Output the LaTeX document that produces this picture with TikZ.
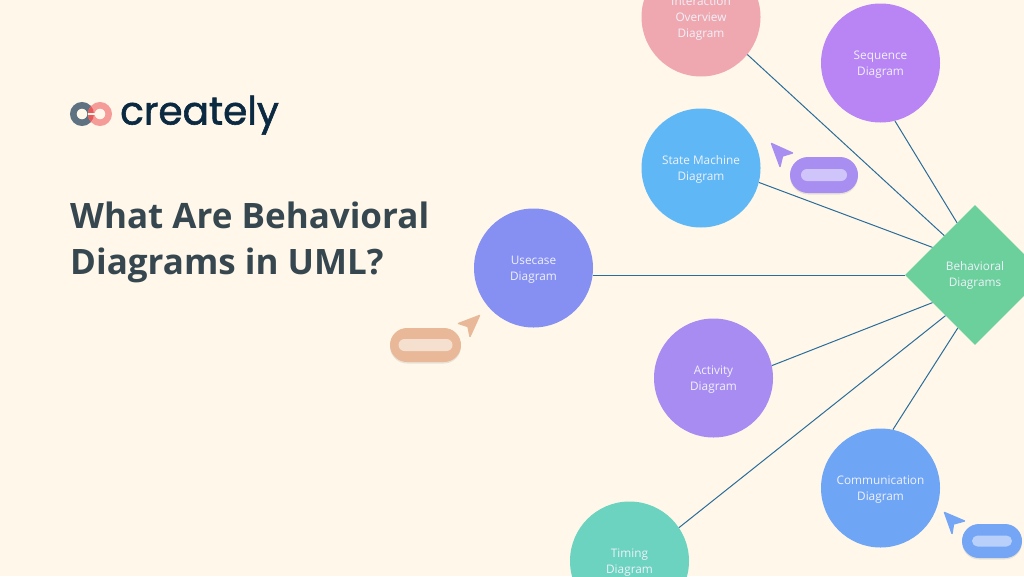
\documentclass[tikz,border=0pt]{standalone}
\usepackage{fontspec}
\setmainfont{Open Sans}
\newfontfamily\logofont[FakeBold=1.5]{Poppins}
\usetikzlibrary{shapes.geometric,shapes.misc,shadows}
\definecolor{pagebg}{HTML}{FFF8EA}
\definecolor{linkblue}{HTML}{2A6C9A}
\definecolor{titleink}{HTML}{37474F}
\definecolor{logoink}{HTML}{0B2A42}
\definecolor{labelink}{HTML}{EFF1FB}
\definecolor{logogrey}{HTML}{5E7282}
\definecolor{logopink}{HTML}{F59C98}
\definecolor{logored}{HTML}{E85A5A}
\newcommand{\firstline}{\rule{0pt}{12pt}}
\tikzset{
  umlcircle/.style={circle,minimum size=119pt,inner sep=0pt,align=center,text=labelink,
    font=\fontsize{11.8}{16}\selectfont},
  umldiamond/.style={diamond,minimum size=140pt,inner sep=0pt,align=center,text=labelink,
    font=\fontsize{11.8}{16}\selectfont},
  titleline/.style={anchor=base west,inner sep=0pt,text=titleink,font=\fontsize{35}{44}\selectfont\bfseries},
  pillouter/.style={rounded rectangle,inner sep=0pt,
    drop shadow={shadow xshift=0pt,shadow yshift=-1.5pt,opacity=0.18}},
  pillinner/.style={rounded rectangle,inner sep=0pt},
  pointer/.style={line join=round,line width=1.4pt},
  link/.style={draw=linkblue,line width=1pt}
}
\begin{document}
\begin{tikzpicture}[x=1pt,y=-1pt]
  \useasboundingbox (0,0) rectangle (1024,576);
  \clip (0,0) rectangle (1024,576);
  \fill[pagebg] (0,0) rectangle (1024,576);
  % logo
  \draw[line width=6.5pt,draw=logogrey] (82,114) circle (8.7);
  \draw[line width=6.5pt,draw=logopink] (100,114) circle (8.7);
  \begin{scope}
    \clip (82,114) circle (12);
    \fill[logored] (100,114) circle (12);
  \end{scope}
  \fill[pagebg] (87.5,112.6) rectangle (94.5,115.4);
  \node[anchor=base west,inner sep=0pt,text=logoink,font=\logofont\fontsize{39}{39}\selectfont]
    (logotext) at (120,124.5) {creately};
  % title
  \node[titleline] (title1) at (70,228) {What Are Behavioral};
  \node[titleline] (title2) at (70,274) {Diagrams in UML?};
  % diagrams
  \draw
    (975,275) node[umldiamond,fill={rgb,255:red,107;green,208;blue,156}] (behavioral) {Behavioral\\Diagrams}
    (701,17) node[umlcircle,fill={rgb,255:red,240;green,168;blue,176}] (interaction) {\firstline Interaction\\Overview\\Diagram}
    (880.5,63) node[umlcircle,fill={rgb,255:red,185;green,133;blue,245}] (sequence) {\firstline Sequence\\Diagram}
    (701,168) node[umlcircle,fill={rgb,255:red,95;green,184;blue,245}] (statemachine) {\firstline State Machine\\Diagram}
    (533.5,268) node[umlcircle,fill={rgb,255:red,133;green,144;blue,242}] (usecase) {\firstline Usecase\\Diagram}
    (713.5,378) node[umlcircle,fill={rgb,255:red,169;green,140;blue,242}] (activity) {\firstline Activity\\Diagram}
    (880.5,488) node[umlcircle,fill={rgb,255:red,111;green,165;blue,245}] (communication) {\firstline Communication\\Diagram}
    (629.5,561) node[umlcircle,fill={rgb,255:red,107;green,211;blue,192}] (timing) {\firstline Timing\\Diagram};
  \begin{scope}[link]
    \draw (interaction.-39) to (behavioral.128);
    \draw (sequence.-76) to (behavioral.109);
    \draw (statemachine.-14) to (behavioral.147);
    \draw (usecase.east |- behavioral.west) to (behavioral.west);
    \draw (activity.12) to (behavioral.213);
    \draw (timing.34) to (behavioral.234);
    \draw (communication.78) to (behavioral.252);
  \end{scope}
  % cursors
  \node[pillouter,fill={rgb,255:red,169;green,142;blue,242},minimum width=68pt,minimum height=36pt] (purplepill) at (824,175) {};
  \node[pillinner,fill={rgb,255:red,208;green,197;blue,250},minimum width=46pt,minimum height=12pt] (purpleinner) at (purplepill.center) {};
  \filldraw[pointer,color={rgb,255:red,169;green,142;blue,242}] (771.5,143.5) -- (792.5,153) -- (782.5,156) -- (780,166.5) -- cycle;
  \node[pillouter,fill={rgb,255:red,232;green,184;blue,152},minimum width=71pt,minimum height=34pt] (orangepill) at (425.5,345) {};
  \node[pillinner,fill={rgb,255:red,245;green,224;blue,208},minimum width=54pt,minimum height=12pt] (orangeinner) at (orangepill.center) {};
  \filldraw[pointer,color={rgb,255:red,232;green,184;blue,152}] (479.5,315.5) -- (458.5,323.5) -- (468,326.5) -- (470,336.5) -- cycle;
  \node[pillouter,fill={rgb,255:red,116;green,166;blue,245},minimum width=60pt,minimum height=34pt] (bluepill) at (992,541) {};
  \node[pillinner,fill={rgb,255:red,184;green,208;blue,250},minimum width=40pt,minimum height=11pt] (blueinner) at (bluepill.center) {};
  \filldraw[pointer,color={rgb,255:red,116;green,166;blue,245}] (944.5,512.5) -- (964.5,521) -- (953.5,524) -- (952,533.5) -- cycle;
\end{tikzpicture}
\end{document}
